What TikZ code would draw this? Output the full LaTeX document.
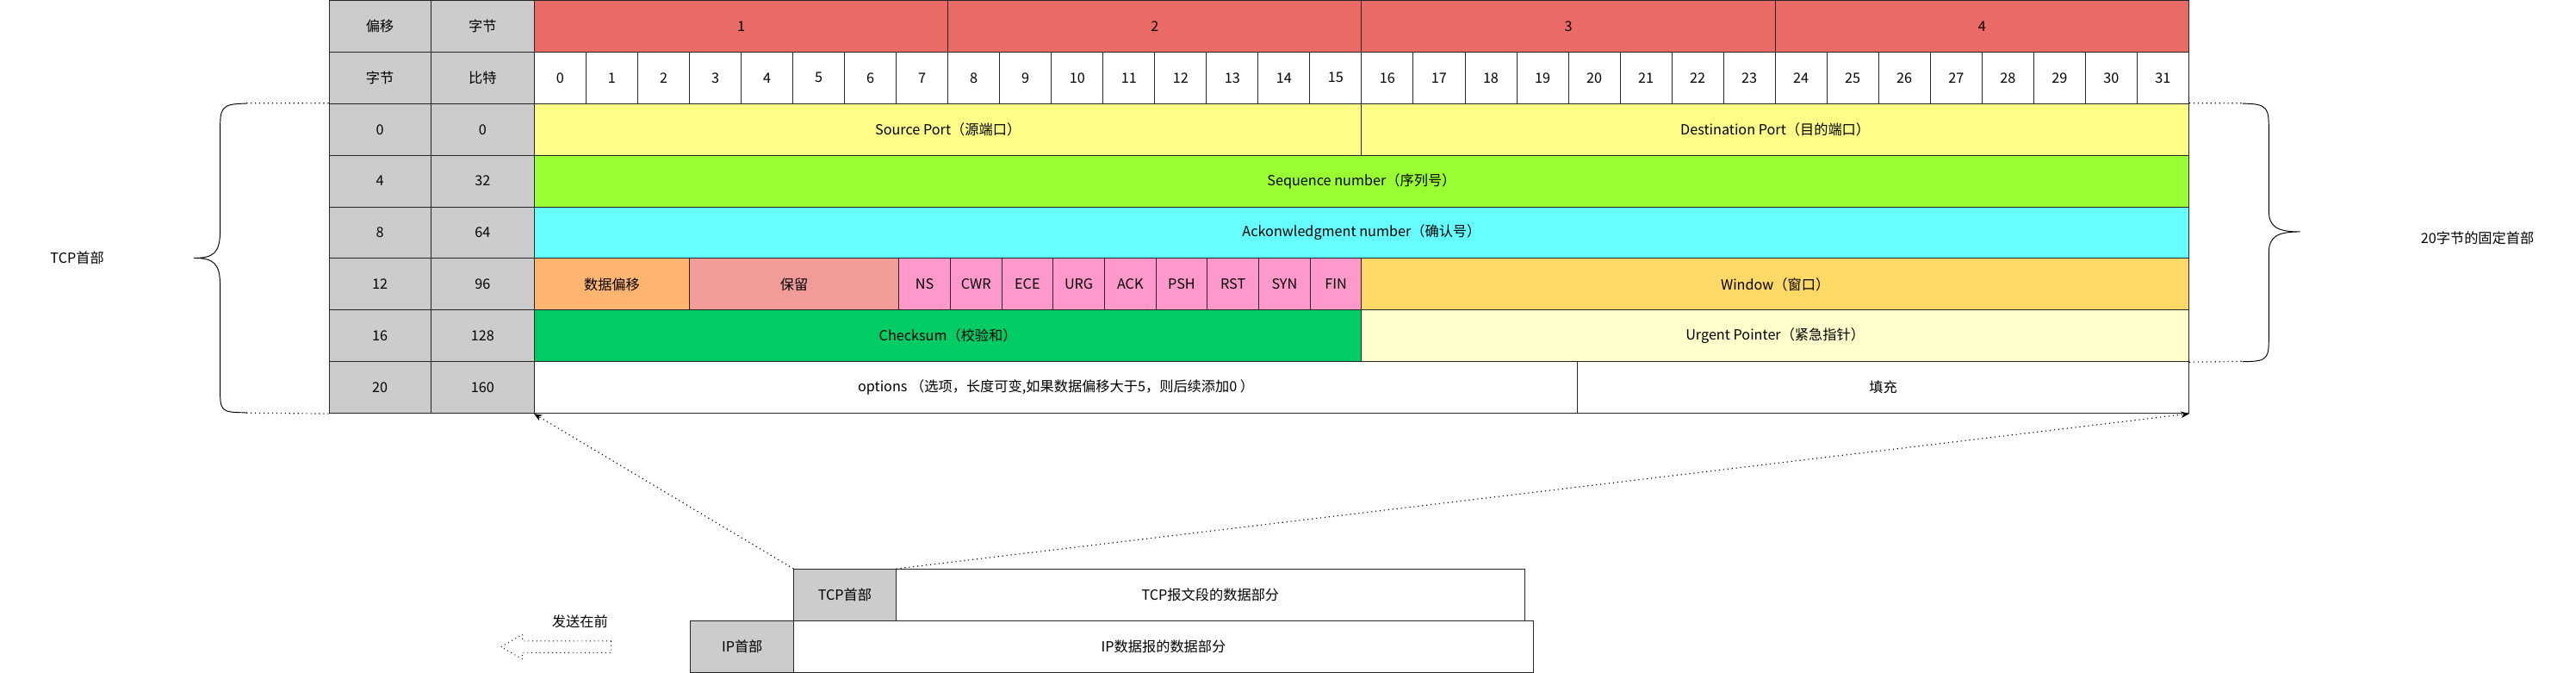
\documentclass[tikz,border=0pt]{standalone}
\usepackage{fontspec}
\setmainfont{Noto Sans CJK SC}
\usetikzlibrary{arrows.meta,decorations.pathreplacing}
\definecolor{hred}{HTML}{EA6B66}
\definecolor{gcell}{HTML}{CCCCCC}
\definecolor{cyel}{HTML}{FFFF88}
\definecolor{cgrn}{HTML}{99FF33}
\definecolor{ccyan}{HTML}{66FFFF}
\definecolor{corg}{HTML}{FFB570}
\definecolor{cres}{HTML}{F19C99}
\definecolor{cflag}{HTML}{FF99CC}
\definecolor{cwin}{HTML}{FFD966}
\definecolor{cchk}{HTML}{00CC66}
\definecolor{curg}{HTML}{FFFFCC}
\tikzset{
 cell/.style={draw=black!85, line width=0.5pt, inner sep=0pt, anchor=north west, minimum height=31.4pt, font=\fontsize{8.5}{10}\selectfont},
 conn/.style={dotted, line width=0.6pt, -{Stealth[length=5pt,width=4pt]}},
 dotl/.style={dotted, line width=0.6pt},
 lbl/.style={font=\fontsize{8.5}{10}\selectfont, inner sep=1pt}
}
\begin{document}
\begin{tikzpicture}[x=1pt,y=-1pt]
\useasboundingbox[fill=white] (0,0) rectangle (1568,409.4);
\def\bw{31.47}
\def\rh{31.4}
% header
\node[cell,fill=gcell,minimum width=62pt] (h1) at (200,0) {偏移};
\node[cell,fill=gcell,minimum width=63pt] (h2) at (262,0) {字节};
\node[cell,fill=gcell,minimum width=62pt] (h3) at (200,\rh) {字节};
\node[cell,fill=gcell,minimum width=63pt] (h4) at (262,\rh) {比特};
\foreach \k in {1,...,4}{
 \pgfmathsetmacro\xx{325+(\k-1)*8*\bw}
 \node[cell,fill=hred,minimum width=8*\bw pt] (oct\k) at (\xx,0) {\k};
}
\foreach \i in {0,...,31}{
 \pgfmathsetmacro\xx{325+\i*\bw}
 \node[cell,fill=white,minimum width=\bw pt] (bit\i) at (\xx,\rh) {\i};
}
% left columns
\foreach \r/\a/\b in {0/0/0,1/4/32,2/8/64,3/12/96,4/16/128,5/20/160}{
 \pgfmathsetmacro\yy{(\r+2)*\rh}
 \node[cell,fill=gcell,minimum width=62pt] (lo\r) at (200,\yy) {\a};
 \node[cell,fill=gcell,minimum width=63pt] (lb\r) at (262,\yy) {\b};
}
% fields: row, start bit, nbits, color, text
\foreach \r/\s/\n/\c/\t/\nm in {
 0/0/16/cyel/{Source Port（源端口）}/sp,
 0/16/16/cyel/{Destination Port（目的端口）}/dp,
 1/0/32/cgrn/{Sequence number（序列号）}/seq,
 2/0/32/ccyan/{Ackonwledgment number（确认号）}/ack,
 3/0/3/corg/{数据偏移}/off,
 3/3/4.05/cres/{保留}/res,
 3/16/16/cwin/{Window（窗口）}/win,
 4/0/16/cchk/{Checksum（校验和）}/chk,
 4/16/16/curg/{Urgent Pointer（紧急指针）}/urg,
 5/0/20.18/white/{options （选项，长度可变,如果数据偏移大于5，则后续添加0 ）}/opt,
 5/20.18/11.82/white/{填充}/pad}{
 \pgfmathsetmacro\xx{325+\s*\bw}
 \pgfmathsetmacro\yy{(\r+2)*\rh}
 \pgfmathsetmacro\ww{\n*\bw}
 \node[cell,fill=\c,minimum width=\ww pt] (\nm) at (\xx,\yy) {\t};
}
\foreach \f [count=\j from 0] in {NS,CWR,ECE,URG,ACK,PSH,RST,SYN,FIN}{
 \pgfmathsetmacro\xx{325+7.05*\bw+\j*(8.95*\bw/9)}
 \pgfmathsetmacro\ww{8.95*\bw/9}
 \node[cell,fill=cflag,minimum width=\ww pt] (fl\j) at (\xx,5*\rh) {\f};
}
% braces
\draw[line width=0.5pt] (150,63) .. controls (134,63) and (134,66) .. (134,80) -- (134,140) .. controls (134,154) and (130,157) .. (118,157)
 (118,157) .. controls (130,157) and (134,160) .. (134,174) -- (134,236) .. controls (134,250) and (134,251) .. (150,251);
\draw[dotl] (150,62.8) -- (lo0.north west);
\draw[dotl] (150,251.2) -- (lo5.south west);
\node[lbl] (ltcp) at (47,157) {TCP首部};
\draw[line width=0.5pt] (1365,63) .. controls (1381,63) and (1381,66) .. (1381,80) -- (1381,128) .. controls (1381,138) and (1386,141) .. (1400,141)
 (1400,141) .. controls (1386,141) and (1381,144) .. (1381,154) -- (1381,204) .. controls (1381,218) and (1381,220) .. (1365,220);
\draw[dotl] (dp.north east) -- (1365,62.8);
\draw[dotl] (urg.south east) -- (1365,219.8);
\node[lbl] (l20) at (1508,145) {20字节的固定首部};
% bottom
\node[cell,fill=gcell,minimum width=62pt] (tcph) at (483,346) {TCP首部};
\node[cell,fill=white,minimum width=383pt] (tcpd) at (545,346) {TCP报文段的数据部分};
\node[cell,fill=gcell,minimum width=63pt] (iph) at (420,377.4) {IP首部};
\node[cell,fill=white,minimum width=450pt] (ipd) at (483,377.4) {IP数据报的数据部分};
\draw[conn] (tcph.north west) -- (opt.south west);
\draw[conn] (tcph.north east) -- (pad.south east);
\node[lbl] (send) at (353,378) {发送在前};
\draw[dotl, line width=0.5pt] (372,390) -- (318,390) -- (318,386) -- (305,393.5) -- (318,401) -- (318,397) -- (372,397) -- cycle;
\end{tikzpicture}
\end{document}
